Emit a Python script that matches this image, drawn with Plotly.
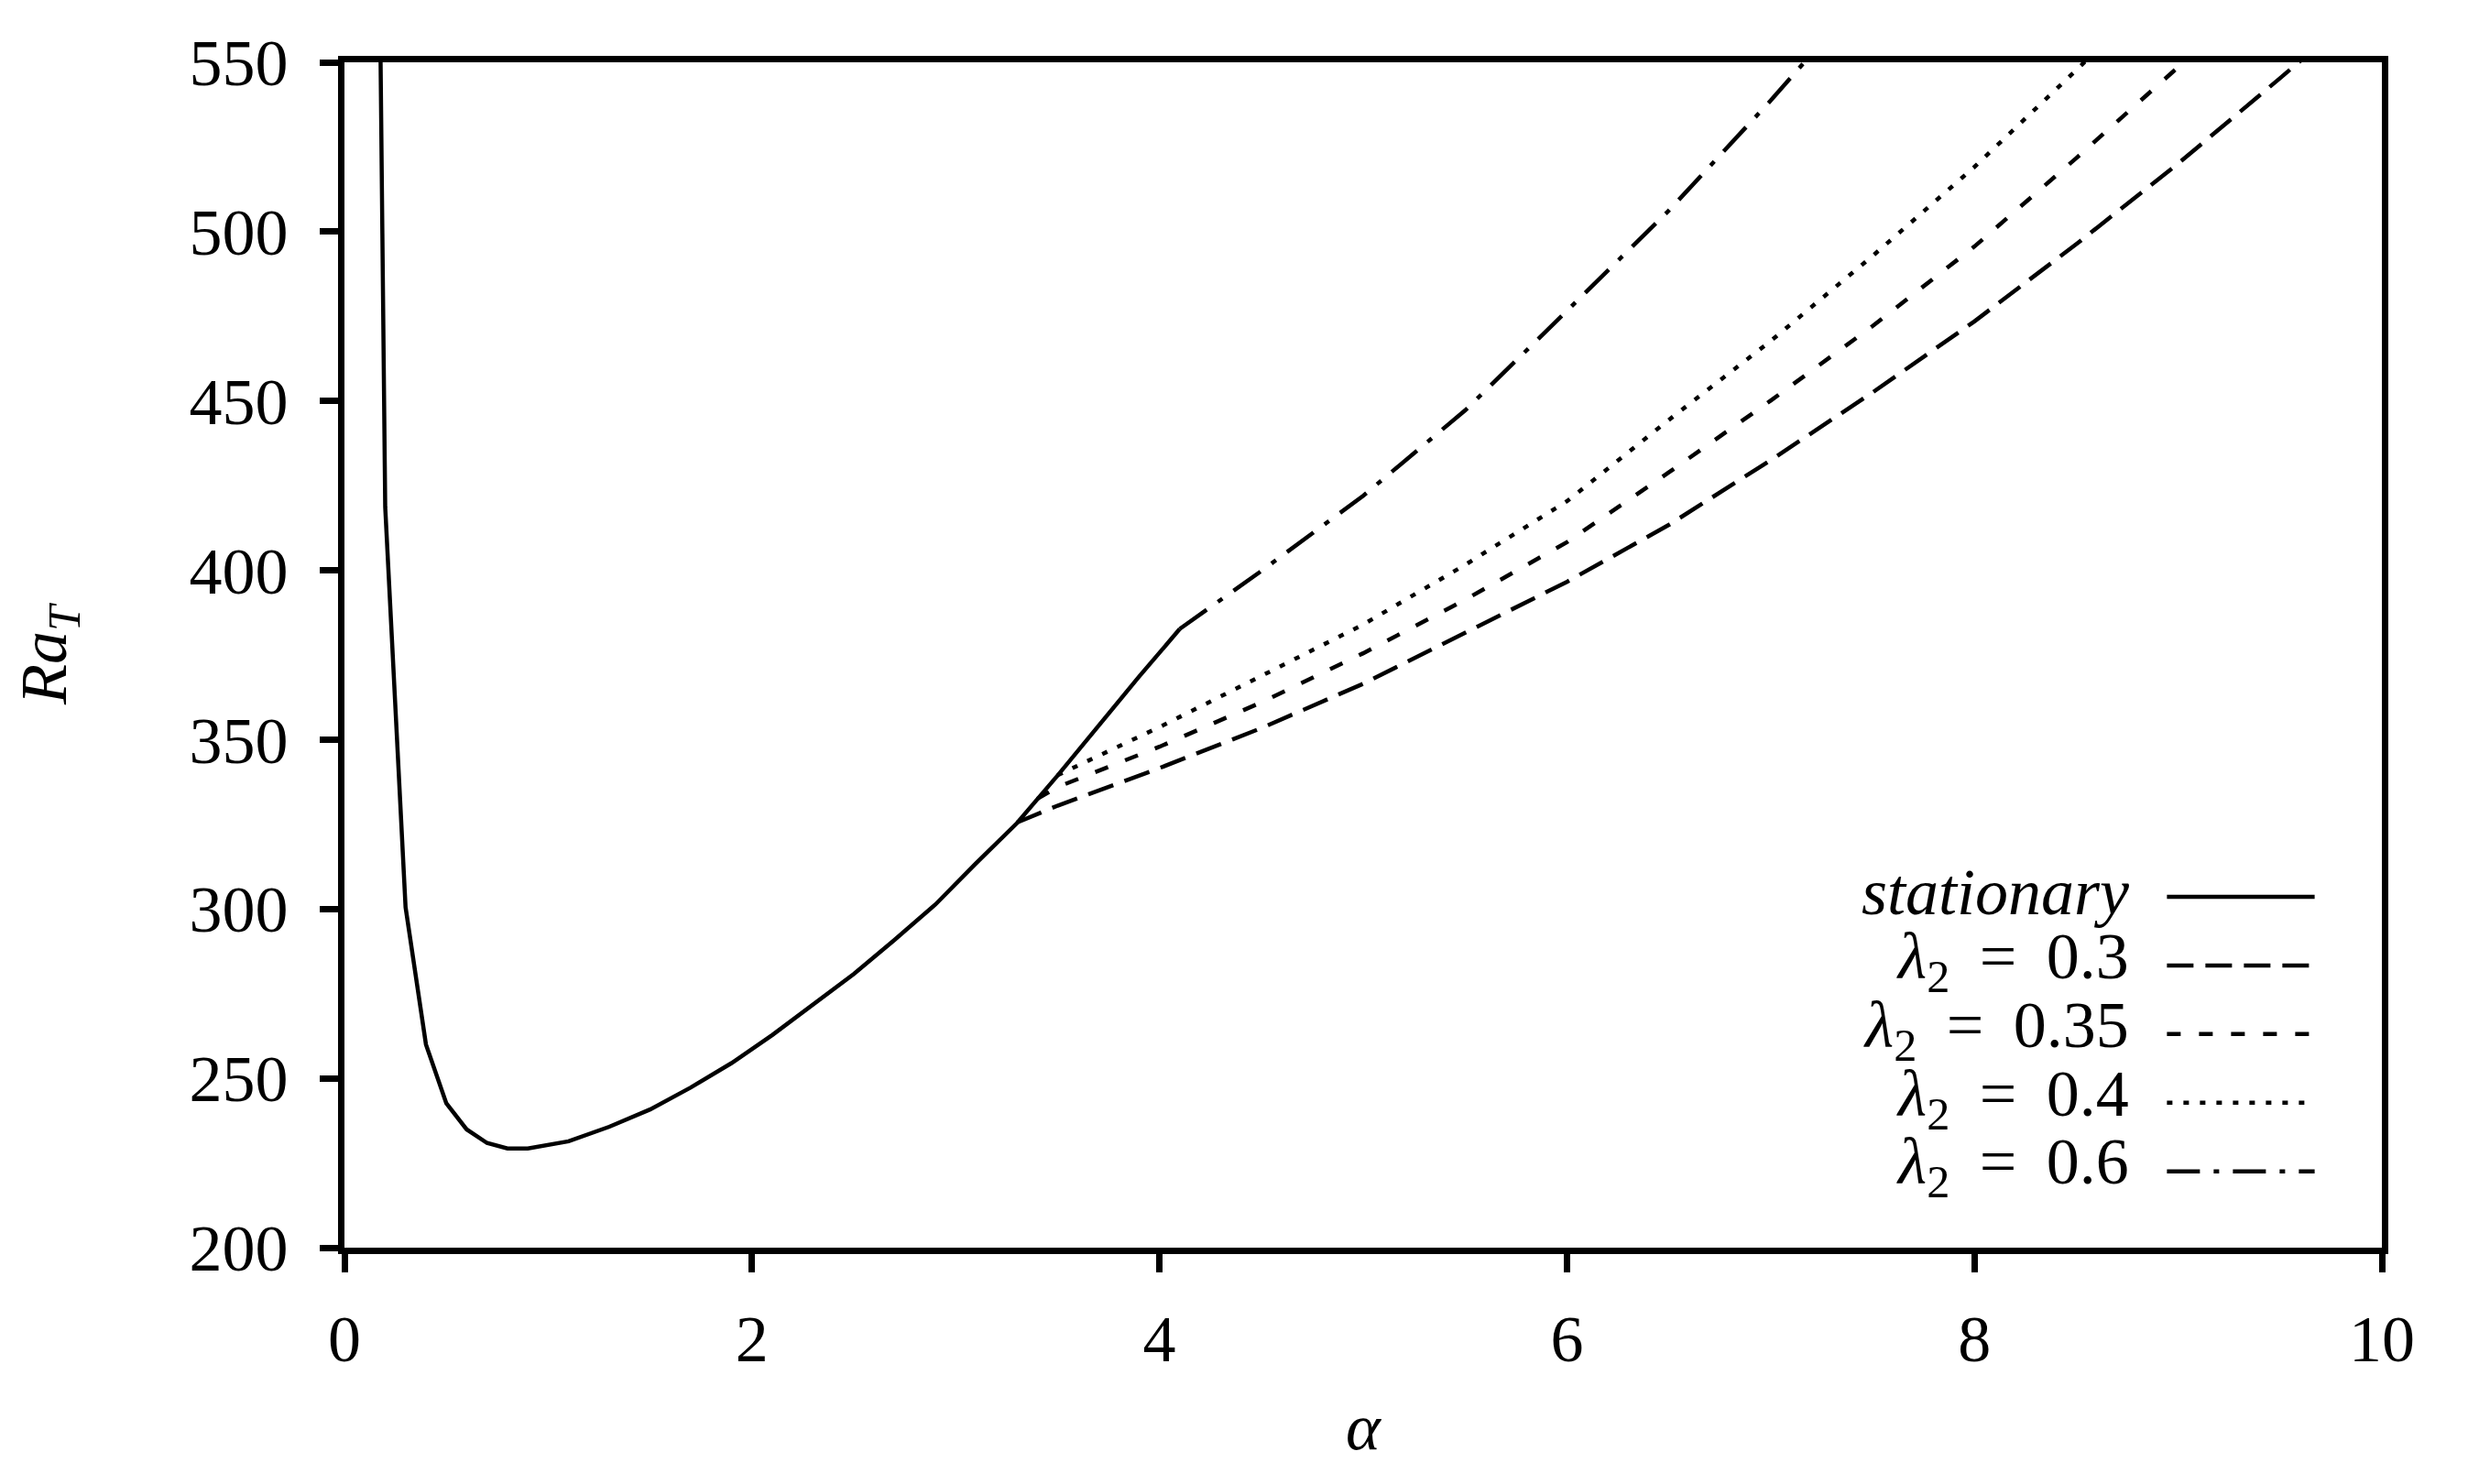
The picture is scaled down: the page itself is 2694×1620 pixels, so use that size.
import plotly.graph_objects as go

# stationary neutral curve
alpha_stat = [0.1, 0.2, 0.3, 0.4, 0.5, 0.6, 0.7, 0.8, 0.9, 1.0, 1.1, 1.3, 1.5,
              1.7, 1.9, 2.1, 2.3, 2.5, 2.7, 2.9, 3.1, 3.3, 3.5, 3.7, 3.9, 4.1]
ra_stat = [1000.0, 418.7, 300.5, 260.0, 242.6, 234.9, 230.9, 229.3, 229.3,
           230.2, 231.4, 235.7, 240.8, 247.3, 254.5, 262.8, 271.8, 280.8,
           290.9, 301.3, 313.5, 325.3, 339.4, 354.1, 368.6, 382.7]

# oscillatory branches
alpha_l030 = [3.3, 3.5, 4.0, 4.5, 5.0, 5.5, 6.0, 6.5, 7.0, 7.5, 8.0, 8.5, 9.0, 9.5, 10.0]
ra_l030 = [325.5, 330.5, 341.6, 353.4, 366.5, 381.4, 396.6, 413.4, 432.5,
           452.5, 473.5, 496.3, 520.1, 545.3, 571.0]

alpha_l035 = [3.4, 3.5, 4.0, 4.5, 5.0, 5.5, 6.0, 6.5, 7.0, 7.5, 8.0, 8.5, 9.0, 9.5]
ra_l035 = [332.5, 336.0, 347.9, 361.0, 375.5, 391.3, 408.3, 428.9, 450.1,
           472.1, 495.6, 521.7, 548.6, 577.0]

alpha_l040 = [3.5, 4.0, 4.5, 5.0, 5.5, 6.0, 6.5, 7.0, 7.5, 8.0, 8.5, 9.0]
ra_l040 = [339.5, 353.7, 368.8, 384.0, 401.6, 420.4, 444.4, 467.7, 492.8,
           519.1, 547.7, 577.0]

alpha_l060 = [4.1, 4.5, 5.0, 5.5, 6.0, 6.5, 7.0, 7.5]
ra_l060 = [382.7, 399.8, 422.0, 447.2, 476.6, 506.2, 538.7, 573.0]

x_ticks = [0, 2, 4, 6, 8, 10]
y_ticks = [200, 250, 300, 350, 400, 450, 500, 550]

FONT = "Liberation Serif"
LW = 4.5
EQ = "\u2009=\u2009"

series = [
    ("<i>stationary</i>", alpha_stat, ra_stat, "solid"),
    ("<i>λ</i><sub>2</sub> " + EQ + " 0.3", alpha_l030, ra_l030, "29px,13px"),
    ("<i>λ</i><sub>2</sub> " + EQ + " 0.35", alpha_l035, ra_l035, "15px,20px"),
    ("<i>λ</i><sub>2</sub> " + EQ + " 0.4", alpha_l040, ra_l040, "6px,12px"),
    ("<i>λ</i><sub>2</sub> " + EQ + " 0.6", alpha_l060, ra_l060, "36px,15px,6px,15px"),
]

fig = go.Figure()
annotations = []
shapes = []
row_y0 = 0.300
row_dy = 0.0579
for i, (name, xs, ys, dash) in enumerate(series):
    fig.add_trace(go.Scatter(
        x=xs, y=ys, mode="lines", name=name, showlegend=False,
        line=dict(color="black", width=LW, dash=dash),
    ))
    # key drawn gnuplot-style: label on the left, line sample on the right
    yk = row_y0 - i * row_dy
    annotations.append(dict(
        x=0.877, y=yk, xref="paper", yref="paper", text=name,
        xanchor="right", yanchor="middle", showarrow=False,
        font=dict(family=FONT, size=72, color="black"),
    ))
    shapes.append(dict(
        type="line", xref="paper", yref="paper",
        x0=0.8945, x1=0.967, y0=yk - 0.004, y1=yk - 0.004,
        line=dict(color="black", width=LW, dash=dash),
    ))

axis_common = dict(
    showline=True, linecolor="black", linewidth=7, mirror=True,
    ticks="outside", ticklen=20, tickwidth=7, tickcolor="black",
    showgrid=False, zeroline=False,
    tickfont=dict(family=FONT, size=72, color="black"),
)

fig.update_layout(
    width=2678, height=1604,
    margin=dict(l=368, r=86, t=60, b=250),
    paper_bgcolor="white", plot_bgcolor="white",
    font=dict(family=FONT, size=72, color="black"),
    annotations=annotations, shapes=shapes,
    xaxis=dict(
        range=[0, 10], tickvals=x_ticks, ticktext=[str(v) for v in x_ticks],
        title=dict(text="<i>α</i>", font=dict(family=FONT, size=72), standoff=33),
        ticklabelstandoff=11,
        **axis_common,
    ),
    yaxis=dict(
        range=[200, 550], tickvals=y_ticks, ticktext=[str(v) for v in y_ticks],
        title=dict(text="<i>Ra</i><sub><i>T</i></sub>", font=dict(family=FONT, size=72), standoff=116),
        ticklabelstandoff=20,
        **axis_common,
    ),
)

fig.write_html("out.html")
